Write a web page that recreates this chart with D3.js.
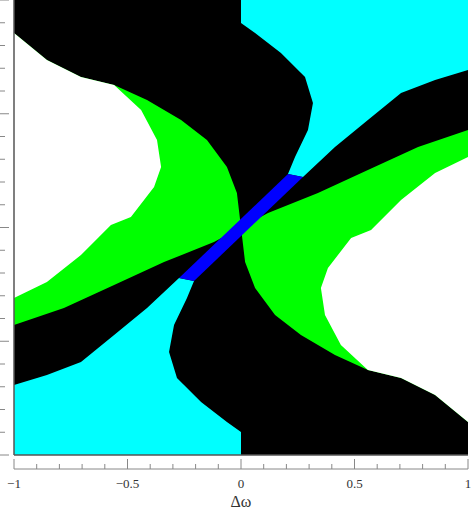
<!DOCTYPE html>
<html><head><meta charset="utf-8">
<script src="https://cdn.jsdelivr.net/npm/d3@7"></script>
<style>body{margin:0;background:#fff}</style>
</head><body>
<script>
// region boundaries, left half; right half is the point mirror
const whiteEdge = [[-1,0.855],[-0.855,0.736],[-0.705,0.662],[-0.559,0.626],[-0.44,0.516],[-0.37,0.385],[-0.352,0.266],[-0.383,0.178],[-0.485,0.046],[-0.573,0.011],[-0.705,-0.121],[-0.855,-0.24],[-1,-0.31]];
const greenEdge = [[-1,0.855],[-0.855,0.736],[-0.705,0.662],[-0.559,0.626],[-0.414,0.56],[-0.264,0.473],[-0.15,0.385],[-0.062,0.266],[-0.018,0.152],[0,0],[-0.119,-0.064],[-0.339,-0.152],[-0.559,-0.253],[-0.78,-0.354],[-1,-0.429]];
const cyanEdge = [[-1,-0.692],[-0.855,-0.648],[-0.705,-0.591],[-0.559,-0.473],[-0.414,-0.354],[-0.273,-0.222],[-0.207,-0.235],[-0.238,-0.31],[-0.295,-0.429],[-0.317,-0.547],[-0.282,-0.662],[-0.176,-0.767],[-0.062,-0.855],[0,-0.899],[0,-1],[-1,-1]];
const blueBar = [[-0.273,-0.222],[-0.207,-0.235],[0.273,0.222],[0.207,0.235]];
const xTicks = [-1,-0.5,0,0.5,1];
const xLabels = ["\u22121","\u22120.5","0","0.5","1"];

const W = 474, H = 513;
const x = d3.scaleLinear().domain([-1,1]).range([14,468]);
const y = d3.scaleLinear().domain([-1,1]).range([455,0]);

const svg = d3.select("body").append("svg").attr("width",W).attr("height",H);
const line = d3.line().x(d => x(d[0])).y(d => y(d[1]));
const mirror = pts => pts.map(p => [-p[0], -p[1]]);

svg.append("rect").attr("x",x(-1)).attr("y",y(1)).attr("width",x(1)-x(-1)).attr("height",y(-1)-y(1)).attr("fill","#000");

const layers = [[greenEdge,"#00ff00"],[whiteEdge,"#ffffff"],[cyanEdge,"#00ffff"]];
layers.forEach(([pts,col]) => {
  [pts, mirror(pts)].forEach(p => svg.append("path").attr("d", line(p) + "Z").attr("fill",col));
});
svg.append("path").attr("d", line(blueBar) + "Z").attr("fill","#0000ff");

// frame edges
svg.append("line").attr("x1",x(-1)).attr("x2",x(-1)).attr("y1",0).attr("y2",y(-1)).attr("stroke","#555").attr("stroke-width",1.5);
svg.append("line").attr("x1",x(-1)).attr("x2",x(1)).attr("y1",y(-1)).attr("y2",y(-1)).attr("stroke","#555").attr("stroke-width",1.5);

// left ticks
const minor = d3.range(-1,1.0001,0.1);
svg.selectAll(".yt").data(minor).join("line")
  .attr("x1",0).attr("x2",d => Math.abs(Math.round(d*10)) % 5 === 0 ? 9 : 5)
  .attr("y1",d => y(d)).attr("y2",d => y(d)).attr("stroke","#888");

// bottom axis
const ax = 469;
svg.append("line").attr("x1",x(-1)).attr("x2",x(1)).attr("y1",ax).attr("y2",ax).attr("stroke","#888");
svg.selectAll(".xt").data(minor).join("line")
  .attr("x1",d => x(d)).attr("x2",d => x(d)).attr("y1",ax)
  .attr("y2",d => Math.abs(Math.round(d*10)) % 5 === 0 ? ax-10 : ax-5).attr("stroke","#888");
svg.selectAll(".xl").data(xTicks).join("text")
  .attr("x",d => x(d)).attr("y",488).attr("text-anchor","middle")
  .attr("font-family","Liberation Serif").attr("font-size",13).attr("fill","#333")
  .text((d,i) => xLabels[i]);
svg.append("text").attr("x",x(0)).attr("y",507).attr("text-anchor","middle")
  .attr("font-family","Liberation Serif").attr("font-size",16).attr("fill","#333").text("\u0394\u03c9");
</script>
</body></html>
